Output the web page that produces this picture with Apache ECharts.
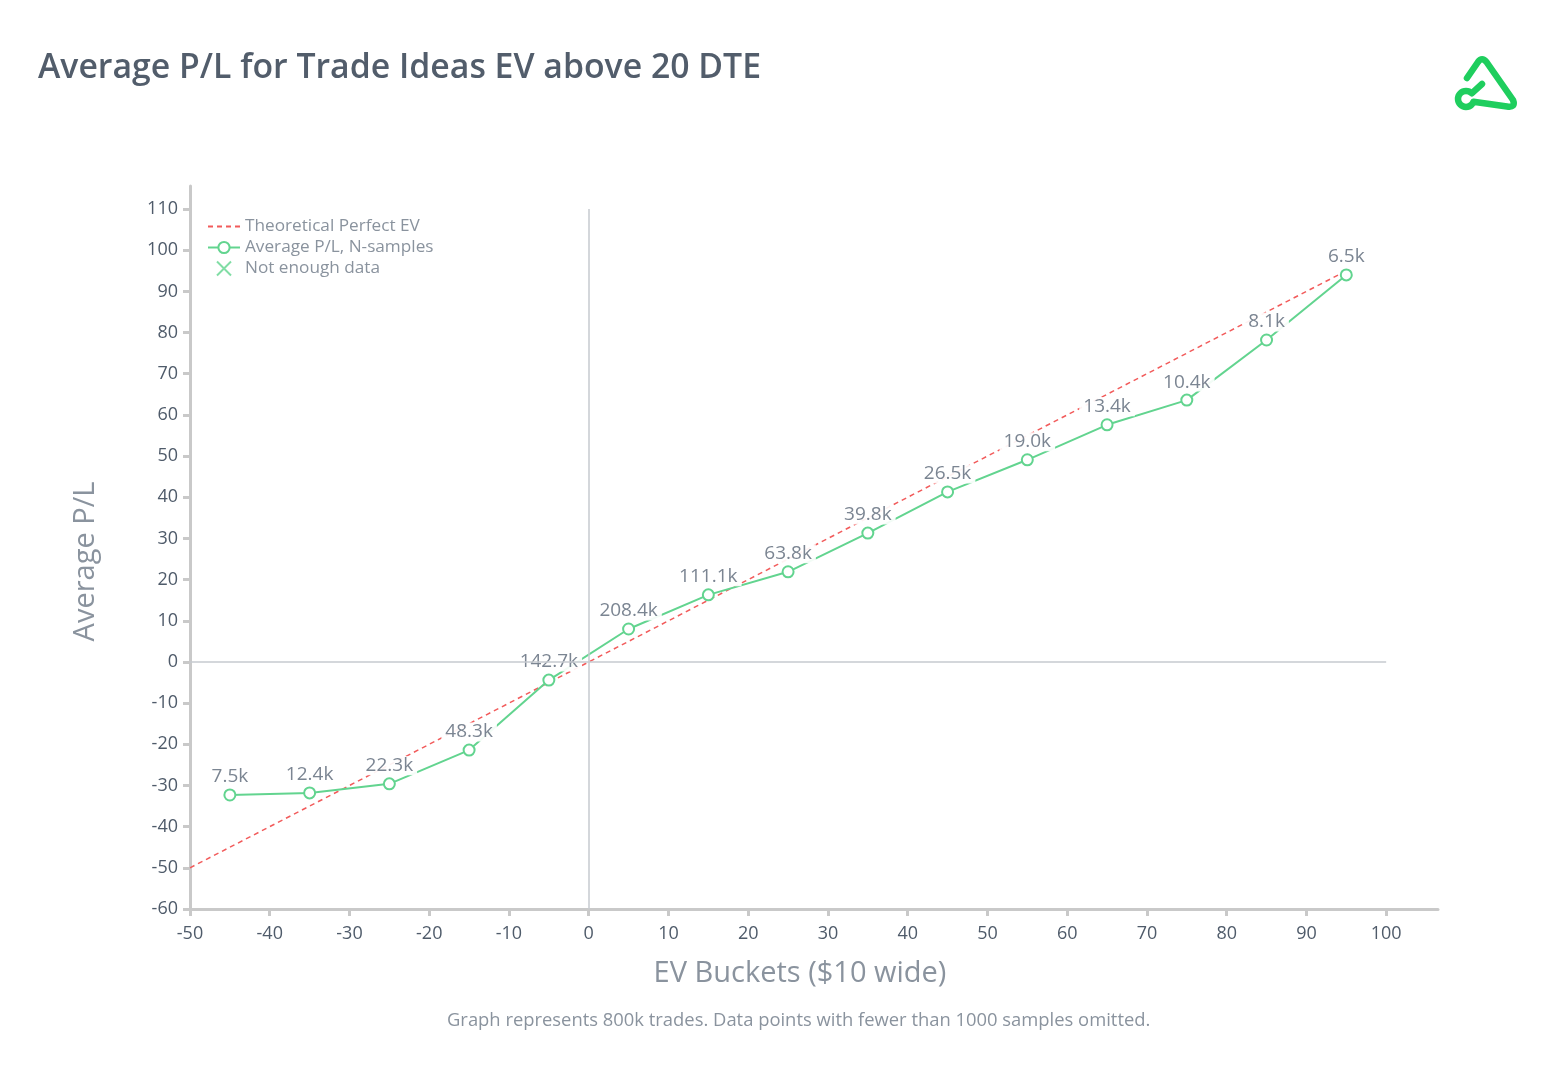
<!DOCTYPE html>
<html>
<head>
<meta charset="utf-8">
<title>Average P/L for Trade Ideas EV above 20 DTE</title>
<script src="https://cdn.jsdelivr.net/npm/echarts@6/dist/echarts.min.js"></script>
<style>
  html, body { margin: 0; padding: 0; background: #fff; }
  #chart { width: 1560px; height: 1070px; }
</style>
</head>
<body>
<div id="chart"></div>
<script>
// EV bucket centres ($10 wide) and the average P/L per bucket
var evBuckets = [-45, -35, -25, -15, -5, 5, 15, 25, 35, 45, 55, 65, 75, 85, 95];
var avgPL = [-32.3, -31.8, -29.6, -21.4, -4.4, 8.0, 16.3, 21.9, 31.3, 41.3, 49.1, 57.6, 63.6, 78.2, 94.0];
var sampleLabels = ['7.5k', '12.4k', '22.3k', '48.3k', '142.7k', '208.4k', '111.1k', '63.8k',
                    '39.8k', '26.5k', '19.0k', '13.4k', '10.4k', '8.1k', '6.5k'];

// theoretical perfect EV: P/L == EV
var theoryX = [-50, 95];
var theoryY = [-50, 95];

// tick labels
var xTicks = [-50, -40, -30, -20, -10, 0, 10, 20, 30, 40, 50, 60, 70, 80, 90, 100];
var yTicks = [-60, -50, -40, -30, -20, -10, 0, 10, 20, 30, 40, 50, 60, 70, 80, 90, 100, 110];

var FONT = 'Open Sans';
var GREEN = '#62d48f';
var RED = '#f25b5b';
var AXIS = '#c9c9c9';
var LABEL = '#4f5b6a';
var MUTED = '#8a939e';

// logo shape (top right)
echarts.graphic.registerShape('logoMark', echarts.graphic.extendPath(
  'M1482,84 L1471.7,93.3 A8,8 0 1 0 1473.5,101.7 ' +
  'L1507,106.5 Q1516,108 1513,100 L1486.5,62 Q1482,56.5 1478,62 L1467,78', {}
));

var chart = echarts.init(document.getElementById('chart'));

var plData = [];
for (var i = 0; i < evBuckets.length; i++) {
  plData.push({ value: [evBuckets[i], avgPL[i]], label: { formatter: sampleLabels[i] } });
}
var theoryData = [];
for (var j = 0; j < theoryX.length; j++) {
  theoryData.push([theoryX[j], theoryY[j]]);
}

var option = {
  backgroundColor: '#fff',
  textStyle: { fontFamily: FONT },
  title: [{
    text: 'Average P/L for Trade Ideas EV above 20 DTE',
    left: 33, top: 46,
    textStyle: { fontSize: 33.8, fontWeight: 600, color: '#525d6b', fontFamily: FONT }
  }, {
    text: 'Graph represents 800k trades. Data points with fewer than 1000 samples omitted.',
    left: 442, top: 1007,
    textStyle: { fontSize: 18.4, fontWeight: 'normal', color: MUTED, fontFamily: FONT }
  }],
  legend: {
    orient: 'vertical',
    left: 202, top: 213,
    itemWidth: 32, itemHeight: 14, itemGap: 4,
    textStyle: { fontSize: 17.2, color: MUTED, fontFamily: FONT },
    data: [
      { name: 'Theoretical Perfect EV', itemStyle: { opacity: 0 } },
      'Average P/L, N-samples',
      'Not enough data'
    ]
  },
  grid: { left: 190, top: 186, right: 122, bottom: 161 },
  xAxis: {
    type: 'value',
    min: -50, max: 106.5,
    name: 'EV Buckets ($10 wide)',
    nameLocation: 'middle',
    nameGap: 50,
    nameTextStyle: { fontSize: 29, color: MUTED, fontFamily: FONT, padding: [0, 28, 0, 0] },
    axisLine: { onZero: false, lineStyle: { color: AXIS, width: 3 } },
    axisTick: { show: true, length: 7, customValues: xTicks, lineStyle: { color: AXIS, width: 3 } },
    axisLabel: { customValues: xTicks, fontSize: 18, color: LABEL, margin: 16, fontFamily: FONT },
    splitLine: { show: false }
  },
  yAxis: {
    type: 'value',
    min: -60, max: 115.6,
    name: 'Average P/L',
    nameLocation: 'middle',
    nameGap: 90,
    nameTextStyle: { fontSize: 29, color: MUTED, fontFamily: FONT, padding: [0, 28, 0, 0] },
    axisLine: { show: true, onZero: false, lineStyle: { color: AXIS, width: 3 } },
    axisTick: { show: true, length: 7, customValues: yTicks, lineStyle: { color: AXIS, width: 3 } },
    axisLabel: { customValues: yTicks, fontSize: 18, color: LABEL, margin: 12, fontFamily: FONT },
    splitLine: { show: false }
  },
  series: [{
    name: 'Theoretical Perfect EV',
    type: 'line',
    z: 2,
    symbol: 'none',
    silent: true,
    lineStyle: { color: RED, width: 1.5, type: [5, 4] },
    itemStyle: { color: RED },
    data: theoryData,
    markLine: {
      silent: true,
      symbol: 'none',
      label: { show: false },
      lineStyle: { color: '#c6cacf', width: 1.5, type: 'solid' },
      data: [
        [{ coord: [0, -60] }, { coord: [0, 110] }],
        [{ coord: [-50, 0] }, { coord: [100, 0] }]
      ]
    }
  }, {
    name: 'Average P/L, N-samples',
    type: 'line',
    z: 3,
    symbol: 'emptyCircle',
    symbolSize: 11,
    lineStyle: { color: GREEN, width: 2 },
    itemStyle: { color: GREEN, borderWidth: 1.5 },
    label: {
      show: true,
      position: 'top',
      distance: 2,
      fontSize: 19,
      color: '#7b8592',
      fontFamily: FONT,
      backgroundColor: 'rgba(255,255,255,0.92)',
      padding: [0, 4]
    },
    data: plData
  }, {
    name: 'Not enough data',
    type: 'scatter',
    symbol: 'path://M0,0L10,10M10,0L0,10',
    symbolSize: 12,
    itemStyle: { color: 'rgba(0,0,0,0)', borderColor: GREEN, borderWidth: 1.5 },
    data: []
  }],
  graphic: [{
    type: 'logoMark',
    style: { fill: 'none', stroke: '#1fce5e', lineWidth: 6.5, lineCap: 'round', lineJoin: 'round' }
  }]
};

chart.setOption(option);
</script>
</body>
</html>
